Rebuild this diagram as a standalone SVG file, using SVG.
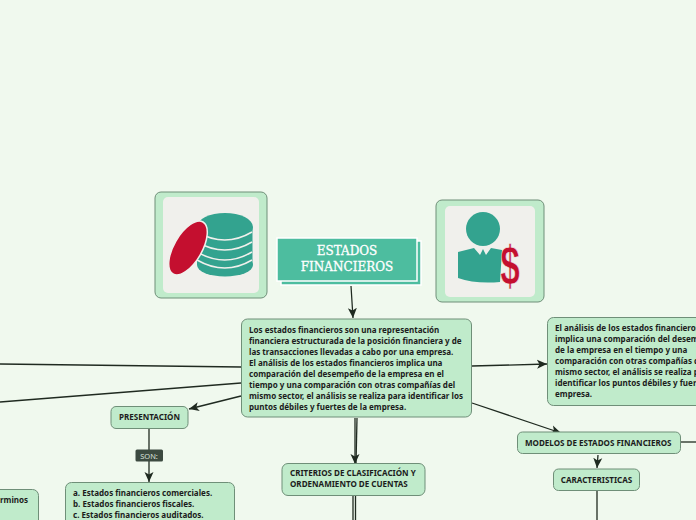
<svg xmlns="http://www.w3.org/2000/svg" width="696" height="520" viewBox="0 0 696 520">
<defs>
<marker id="ah" markerUnits="userSpaceOnUse" markerWidth="12" markerHeight="10" refX="10" refY="5" orient="auto"><path d="M0 0.500 L10 5 L0 9.500 L2.500 5 Z" fill="#1f2a20"/></marker>
</defs>
<style>
.n{fill:#c0ebcb;stroke:#6f8f78;stroke-width:1}
.t{font-family:"Noto Sans","Open Sans",sans-serif;font-weight:700;font-size:8.05px;fill:#1c1c1c}
.c{fill:none;stroke:#1f2a20;stroke-width:1.3}
.ih{fill:#33a38f}
.ir{fill:#c40f2f}
</style>
<rect width="696" height="520" fill="#f0f9ee"/>
<g id="connectors">
<path class="c" d="M351 286 L353 318" marker-end="url(#ah)"/>
<path class="c" d="M241 367 L0 364"/>
<path class="c" d="M241 383 L0 402"/>
<path class="c" d="M241 396 L189 409" marker-end="url(#ah)"/>
<path class="c" d="M472 366 L547 364" marker-end="url(#ah)"/>
<path class="c" d="M472 403 L561 433" marker-end="url(#ah)"/>
<path class="c" d="M355 418 L355 464" marker-end="url(#ah)"/>
<path class="c" d="M357 418 L356 464"/>
<path class="c" d="M353 496 L353 520"/>
<path class="c" d="M355.500 496 L355.500 520"/>
<path class="c" d="M149 429 L149 482" marker-end="url(#ah)" stroke="#3b4a3d"/>
<path class="c" d="M598 455 L597 468" marker-end="url(#ah)"/>
<path class="c" d="M597 491 L597 520"/>
<path class="c" d="M681 442 L696 442"/>
</g>
<g id="icon-coins">
<rect x="155" y="192" width="112" height="106" rx="6" class="n"/>
<rect x="163" y="197" width="96" height="96" rx="5" fill="#f0f0ec"/>
<ellipse class="ih" cx="225" cy="265" rx="28" ry="11.500"/>
<rect class="ih" x="197" y="227" width="55.500" height="38"/>
<ellipse class="ih" cx="225" cy="227" rx="28" ry="14"/>
<path d="M197 232 Q225 248 252 232 M197 242 Q225 258 252 242 M197 252 Q225 268 252 252 M197 260 Q225 276 252 260" fill="none" stroke="#f0f0ec" stroke-width="1.500"/>
<ellipse class="ir" cx="188" cy="248" rx="14" ry="30" transform="rotate(30 188 248)" stroke="#f0f0ec" stroke-width="1.500"/>
</g>
<g id="icon-person">
<rect x="436" y="200" width="108" height="102" rx="6" class="n"/>
<rect x="445" y="206" width="90" height="91" rx="5" fill="#f0f0ec"/>
<circle class="ih" cx="483" cy="229" r="17"/>
<path class="ih" d="M458 252 L474 248 L480 255 L483 249 L486 255 L491 248 L502 250 L500 282 Q475 284 458 278 Z"/>
<text transform="translate(510 285) scale(0.8 1.25)" text-anchor="middle" font-family="Liberation Sans,sans-serif" font-weight="700" font-size="44" fill="#c40f2f" stroke="#f0f0ec" stroke-width="0.500">$</text>
</g>
<g id="title">
<rect x="281" y="241" width="140" height="44" fill="#4dbd9f" stroke="#fff" stroke-width="1.500"/>
<rect x="277" y="238" width="140" height="43" fill="#4dbd9f" stroke="#fff" stroke-width="1.500"/>
<text font-family="DejaVu Serif,serif" font-size="12px" fill="#fff" stroke="#fff" stroke-width="0.300" text-anchor="middle"><tspan x="347" y="255">ESTADOS</tspan><tspan x="347" y="271">FINANCIEROS</tspan></text>
</g>
<g id="n-main">
<rect x="241.500" y="319" width="230" height="98" rx="6" class="n"/>
<text class="t"><tspan x="249" y="333">Los estados financieros son una representación</tspan><tspan x="249" y="344">financiera estructurada de la posición financiera y de</tspan><tspan x="249" y="355">las transacciones llevadas a cabo por una empresa.</tspan><tspan x="249" y="366">El análisis de los estados financieros implica una</tspan><tspan x="249" y="377">comparación del desempeño de la empresa en el</tspan><tspan x="249" y="388">tiempo y una comparación con otras compañías del</tspan><tspan x="249" y="399">mismo sector, el análisis se realiza para identificar los</tspan><tspan x="249" y="410">puntos débiles y fuertes de la empresa.</tspan></text>
</g>
<g id="n-analisis">
<rect x="547.500" y="317.500" width="170" height="88" rx="6" class="n"/>
<text class="t"><tspan x="555" y="331">El análisis de los estados financieros</tspan><tspan x="555" y="342">implica una comparación del desempeño</tspan><tspan x="555" y="353">de la empresa en el tiempo y una</tspan><tspan x="555" y="364">comparación con otras compañías del</tspan><tspan x="555" y="375">mismo sector, el análisis se realiza para</tspan><tspan x="555" y="386">identificar los puntos débiles y fuertes de la</tspan><tspan x="555" y="397">empresa.</tspan></text>
</g>
<g id="n-presentacion">
<rect x="111" y="406.500" width="77" height="22" rx="5" class="n"/>
<text class="t" x="149.500" y="420" text-anchor="middle">PRESENTACIÓN</text>
</g>
<g id="son">
<rect x="135.500" y="449.500" width="27.500" height="12" rx="1.500" fill="#3c4a40"/>
<text x="149" y="458.500" text-anchor="middle" font-family="Noto Sans,sans-serif" font-size="7.500px" fill="#d8e0da">SON:</text>
</g>
<g id="n-tipos">
<rect x="65.500" y="482.500" width="169" height="50" rx="6" class="n"/>
<text class="t"><tspan x="73" y="496">a. Estados financieros comerciales.</tspan><tspan x="73" y="507">b. Estados financieros fiscales.</tspan><tspan x="73" y="518">c. Estados financieros auditados.</tspan></text>
</g>
<g id="n-terminos">
<rect x="-40" y="489.500" width="78.500" height="40" rx="6" class="n"/>
<text class="t" x="0" y="503">rminos</text>
</g>
<g id="n-criterios">
<rect x="282" y="463.500" width="143" height="32" rx="6" class="n"/>
<text class="t"><tspan x="290" y="476">CRITERIOS DE CLASIFICACIÓN Y</tspan><tspan x="290" y="487">ORDENAMIENTO DE CUENTAS</tspan></text>
</g>
<g id="n-modelos">
<rect x="517.500" y="432" width="163" height="21.500" rx="5" class="n"/>
<text class="t" x="525" y="446">MODELOS DE ESTADOS FINANCIEROS</text>
</g>
<g id="n-caracteristicas">
<rect x="553.500" y="469" width="86" height="21.500" rx="5" class="n"/>
<text class="t" x="596.500" y="483" text-anchor="middle">CARACTERISTICAS</text>
</g>
</svg>
